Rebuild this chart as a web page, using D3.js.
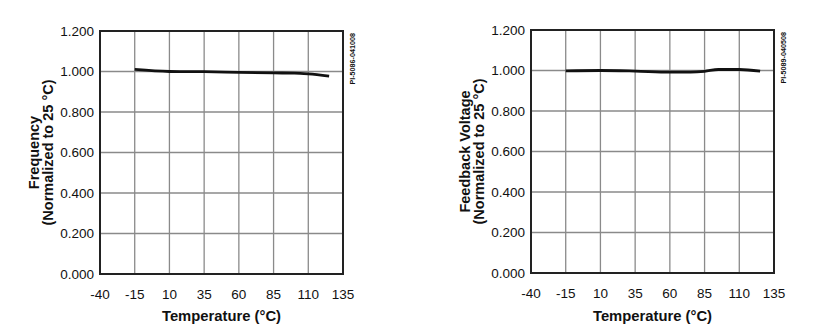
<!DOCTYPE html>
<html><head><meta charset="utf-8">
<script src="https://cdn.jsdelivr.net/npm/d3@7"></script>
<style>body{margin:0;background:#fff}svg{display:block}text{font-family:"Liberation Sans",Arial,sans-serif}</style>
</head><body><svg id="c" width="818" height="328"></svg>
<script>
const xTicks = [-40, -15, 10, 35, 60, 85, 110, 135];
const yTicks = [0, 0.2, 0.4, 0.6, 0.8, 1.0, 1.2];
const freqTemp = [-15, 10, 35, 60, 85, 100, 110, 125];
const freqVal = [1.010, 1.000, 0.999, 0.996, 0.993, 0.992, 0.988, 0.977];
const fbTemp = [-15, 10, 35, 60, 75, 85, 95, 110, 125];
const fbVal = [0.998, 1.000, 0.997, 0.992, 0.992, 0.996, 1.005, 1.005, 0.997];

const svg = d3.select("#c");
function chart(opt) {
  const g = svg.append("g");
  const x = d3.scaleLinear().domain([-40, 135]).range([opt.x0, opt.x1]);
  const y = d3.scaleLinear().domain([0, 1.2]).range([opt.y0, opt.y1]);
  g.selectAll(".gx").data(xTicks.slice(1, -1)).enter().append("line")
    .attr("x1", d => x(d)).attr("x2", d => x(d)).attr("y1", y(0)).attr("y2", y(1.2))
    .attr("stroke", "#8a8a8a").attr("stroke-width", 1.3);
  g.selectAll(".gy").data(yTicks.slice(1, -1)).enter().append("line")
    .attr("y1", d => y(d)).attr("y2", d => y(d)).attr("x1", x(-40)).attr("x2", x(135))
    .attr("stroke", "#8a8a8a").attr("stroke-width", 1.3);
  g.append("rect").attr("x", x(-40)).attr("y", y(1.2)).attr("width", x(135) - x(-40)).attr("height", y(0) - y(1.2))
    .attr("fill", "none").attr("stroke", "#222").attr("stroke-width", 2);
  g.selectAll(".tx").data(xTicks).enter().append("text")
    .attr("x", d => x(d)).attr("y", opt.y0 + 25).attr("text-anchor", "middle")
    .attr("font-size", 13.5).attr("fill", "#111").text(d => d);
  g.selectAll(".ty").data(yTicks).enter().append("text")
    .attr("x", opt.x0 - 6).attr("y", d => y(d) + 4.5).attr("text-anchor", "end")
    .attr("font-size", 13.5).attr("fill", "#111").text(d => d3.format(".3f")(d));
  const line = d3.line().x(d => x(d[0])).y(d => y(d[1])).curve(d3.curveMonotoneX);
  g.append("path").datum(opt.t.map((t, i) => [t, opt.v[i]])).attr("d", line)
    .attr("fill", "none").attr("stroke", "#111").attr("stroke-width", 2.8);
  g.append("text").attr("x", (opt.x0 + opt.x1) / 2).attr("y", 321).attr("text-anchor", "middle")
    .attr("font-size", 14.8).attr("font-weight", "bold").attr("fill", "#111").text("Temperature (°C)");
  const yt = g.append("text").attr("transform", `translate(${opt.x0 - 61},${(opt.y0 + opt.y1) / 2}) rotate(-90)`)
    .attr("text-anchor", "middle").attr("font-size", 14.5).attr("font-weight", "bold").attr("fill", "#111");
  yt.append("tspan").attr("x", 0).attr("dy", 0).text(opt.ylab);
  yt.append("tspan").attr("x", 0).attr("dy", 14).text("(Normalized to 25 °C)");
  g.append("text").attr("transform", `translate(${opt.x1 + 12},${opt.y1 + 2}) rotate(-90)`)
    .attr("text-anchor", "end").attr("font-size", 7.2).attr("font-weight", "bold").attr("fill", "#111").text(opt.code);
}
chart({x0: 100, x1: 343, y0: 274, y1: 31, t: freqTemp, v: freqVal, ylab: "Frequency", code: "PI-5086-041008"});
chart({x0: 531, x1: 774, y0: 273, y1: 30, t: fbTemp, v: fbVal, ylab: "Feedback Voltage", code: "PI-5089-040508"});
</script></body></html>
